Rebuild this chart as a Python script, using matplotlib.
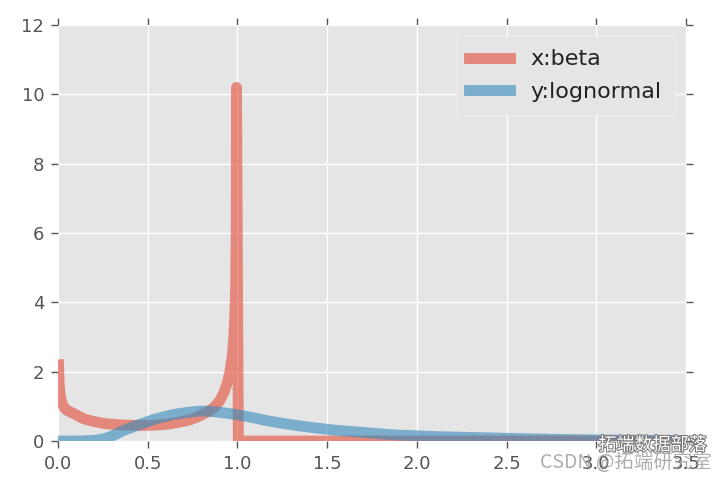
import numpy as np
import matplotlib
matplotlib.use("Agg")
import matplotlib.pyplot as plt
import matplotlib.patheffects as pe

# values
beta_x = [0.003, 0.006, 0.01, 0.015, 0.022, 0.03, 0.04, 0.055, 0.075, 0.096,
          0.12, 0.145, 0.17, 0.21, 0.264, 0.31, 0.35, 0.4, 0.45, 0.5,
          0.55, 0.6, 0.64, 0.68, 0.71, 0.74, 0.77, 0.8, 0.84, 0.87, 0.9,
          0.925, 0.945, 0.96, 0.972, 0.98, 0.986, 0.99, 0.993, 0.995, 1.005, 3.5]
beta_y = [2.2, 1.7, 1.42, 1.24, 1.1, 1.0, 0.93, 0.87, 0.82, 0.77,
          0.7, 0.64, 0.6, 0.55, 0.5, 0.48, 0.465, 0.455, 0.45, 0.452,
          0.46, 0.48, 0.51, 0.55, 0.58, 0.62, 0.68, 0.75, 0.86, 0.97, 1.15,
          1.4, 1.7, 2.05, 2.5, 3.0, 3.7, 4.5, 6.0, 10.2, 0.0, 0.0]

logn_x = [0.0, 0.1, 0.15, 0.2, 0.225, 0.25, 0.275, 0.3, 0.325, 0.355, 0.4,
          0.45, 0.5, 0.545, 0.6, 0.64, 0.7, 0.73, 0.78, 0.83, 0.88, 0.93,
          0.97, 1.0, 1.04, 1.1, 1.15, 1.25, 1.34, 1.43, 1.53, 1.62, 1.72,
          1.81, 1.9, 2.0, 2.09, 2.25, 2.48, 2.75, 3.0, 3.25, 3.5]
logn_y = [0.0, 0.0, 0.005, 0.02, 0.035, 0.06, 0.095, 0.14, 0.2, 0.28, 0.37,
          0.47, 0.56, 0.64, 0.71, 0.76, 0.81, 0.83, 0.86, 0.86, 0.84, 0.81,
          0.78, 0.755, 0.72, 0.66, 0.6, 0.51, 0.44, 0.38, 0.32, 0.28, 0.24,
          0.2, 0.17, 0.15, 0.13, 0.11, 0.08, 0.05, 0.03, 0.02, 0.015]

x_ticks = [0.0, 0.5, 1.0, 1.5, 2.0, 2.5, 3.0, 3.5]
y_ticks = [0, 2, 4, 6, 8, 10, 12]

plt.style.use("ggplot")
plt.rcParams["font.family"] = ["DejaVu Sans", "Noto Sans CJK SC"]

fig, ax = plt.subplots(figsize=(7.28, 4.78), dpi=100)
fig.subplots_adjust(left=0.0797, right=0.9423, top=0.9477, bottom=0.0774)

ax.plot(beta_x, beta_y, color="#E24A33", lw=7.8, alpha=0.6, label="x:beta")
ax.plot(logn_x, logn_y, color="#348ABD", lw=7.8, alpha=0.6, label="y:lognormal")

ax.set_xlim(0, 3.5)
ax.set_ylim(0, 12)
ax.set_xticks(x_ticks)
ax.set_yticks(y_ticks)
ax.set_xticklabels([f"{v:.1f}" for v in x_ticks])
ax.tick_params(which="both", direction="out", length=5, width=1, color="#555555",
               labelcolor="#555555", labelsize=13, top=True, right=True, pad=5)
ax.grid(True, color="white", lw=1)
for s in ax.spines.values():
    s.set_visible(False)

leg = ax.legend(loc="upper right", fontsize=16, handlelength=1.85,
                borderpad=0.6, labelspacing=0.55, handletextpad=0.9,
                borderaxespad=0.5, fancybox=False, framealpha=1)
leg.get_frame().set_facecolor("#E5E5E5")
leg.get_frame().set_edgecolor("#F2F2F2")
for t in leg.get_texts():
    t.set_color("#222222")

# watermark seen in the reference
fig.text(0.822, 0.058, "拓端数据部落", fontsize=13, color="white",
         family=["Noto Sans CJK SC"],
         path_effects=[pe.withStroke(linewidth=1.5, foreground="#777777")])
fig.text(0.742, 0.02, "CSDN @拓端研究室", fontsize=14, color="#9a9a9a",
         family=["Noto Sans CJK SC"], alpha=0.8)

fig.savefig("out.png", dpi=100)
